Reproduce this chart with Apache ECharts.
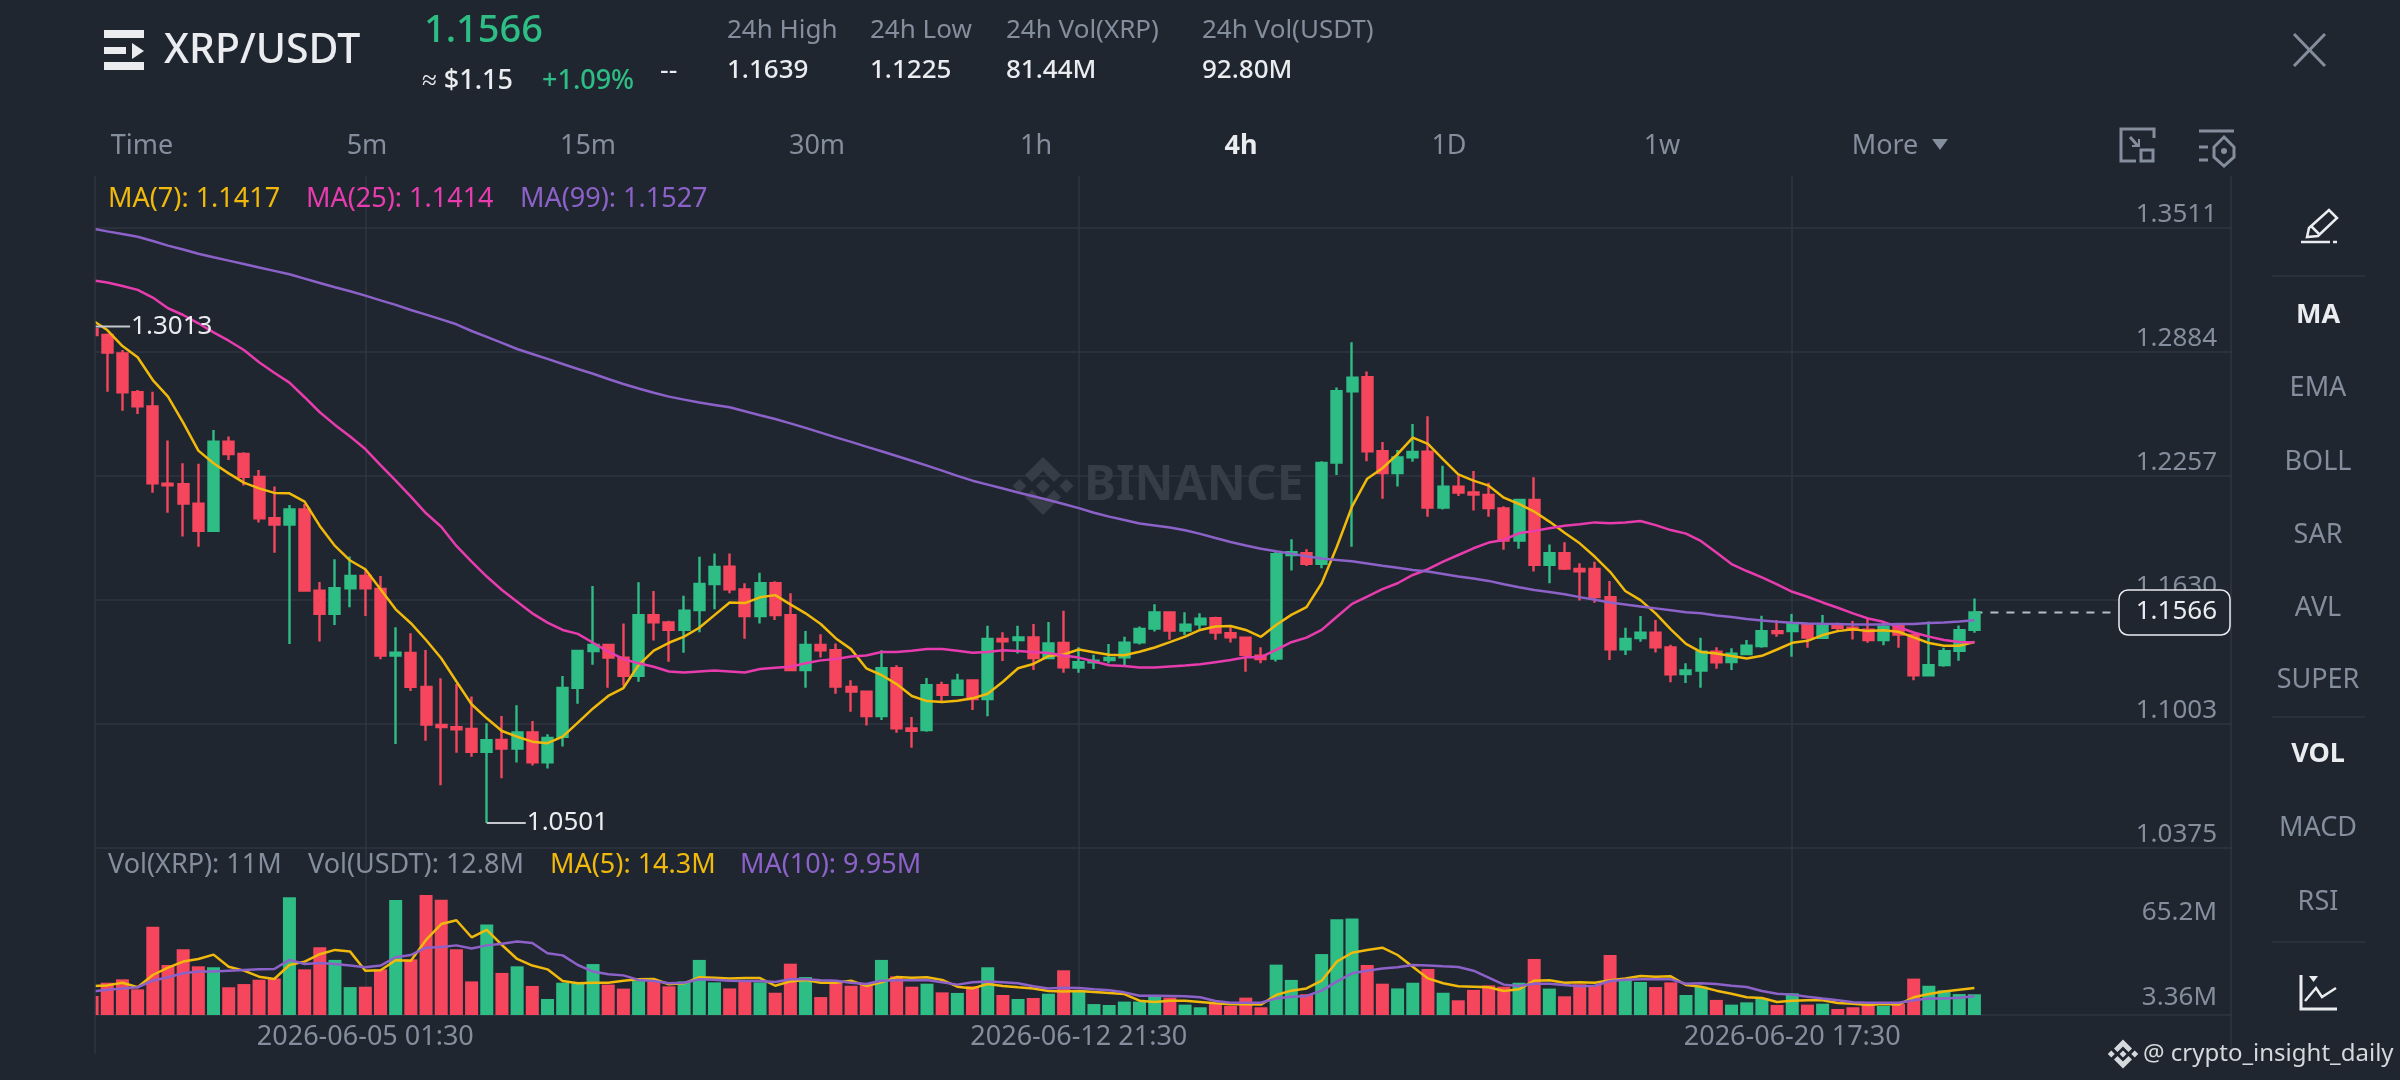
<!DOCTYPE html>
<html>
<head>
<meta charset="utf-8">
<style>html,body{margin:0;padding:0;background:#1f2630;}#c{width:2400px;height:1080px;}</style>
<script src="https://cdn.jsdelivr.net/npm/echarts@6/dist/echarts.min.js"></script>
</head>
<body>
<div id="c"></div>
<script>
const opens=[1.2999,1.2970,1.2877,1.2680,1.2609,1.2218,1.2215,1.2117,1.1980,1.2430,
1.2368,1.2252,1.2043,1.2011,1.2088,1.1677,1.1559,1.1689,1.1751,1.1685,
1.1348,1.1362,1.1190,1.0997,1.0986,1.0977,1.0861,1.0922,1.0878,1.0960,
1.0809,1.0938,1.1185,1.1371,1.1402,1.1338,1.1246,1.1553,1.1516,1.1479,
1.1579,1.1710,1.1798,1.1683,1.1548,1.1714,1.1552,1.1275,1.1402,1.1375,
1.1189,1.1166,1.1043,1.1285,1.0980,1.0972,1.1199,1.1150,1.1223,1.1128,
1.1432,1.1427,1.1440,1.1336,1.1412,1.1288,1.1314,1.1326,1.1340,1.1416,
1.1485,1.1566,1.1475,1.1507,1.1537,1.1461,1.1439,1.1348,1.1333,1.1857,
1.1866,1.1813,1.2324,1.2685,1.2756,1.2382,1.2272,1.2351,1.2380,1.2097,
1.2203,1.2173,1.2161,1.2093,1.1930,1.2136,1.1807,1.1866,1.1786,1.1786,
1.1644,1.1380,1.1437,1.1464,1.1390,1.1255,1.1273,1.1368,1.1315,1.1356,
1.1396,1.1471,1.1472,1.1506,1.1438,1.1498,1.1489,1.1479,1.1427,1.1498,
1.1452,1.1248,1.1300,1.1373,1.1479];
const closes=[1.2970,1.2881,1.2680,1.2609,1.2220,1.2210,1.2117,1.1980,1.2430,1.2368,
1.2252,1.2043,1.2011,1.2088,1.1677,1.1559,1.1689,1.1751,1.1689,1.1348,
1.1363,1.1190,1.1000,1.0987,1.0975,1.0861,1.0920,1.0878,1.0960,1.0809,
1.0932,1.1185,1.1372,1.1402,1.1338,1.1246,1.1553,1.1516,1.1479,1.1575,
1.1710,1.1796,1.1683,1.1548,1.1714,1.1553,1.1275,1.1402,1.1375,1.1191,
1.1166,1.1043,1.1285,1.0980,1.0968,1.1198,1.1150,1.1221,1.1128,1.1432,
1.1420,1.1440,1.1336,1.1410,1.1289,1.1315,1.1323,1.1336,1.1414,1.1483,
1.1566,1.1475,1.1505,1.1535,1.1465,1.1441,1.1352,1.1331,1.1861,1.1871,
1.1813,1.2323,1.2685,1.2754,1.2382,1.2272,1.2351,1.2378,1.2097,1.2203,
1.2173,1.2163,1.2095,1.1930,1.2136,1.1807,1.1866,1.1788,1.1774,1.1644,
1.1380,1.1433,1.1464,1.1390,1.1253,1.1273,1.1368,1.1314,1.1358,1.1398,
1.1471,1.1462,1.1508,1.1440,1.1498,1.1489,1.1479,1.1427,1.1494,1.1455,
1.1248,1.1299,1.1371,1.1477,1.1566];
const lows=[1.2965,1.2683,1.2587,1.2570,1.2172,1.2071,1.1950,1.1899,1.1975,1.2338,
1.2208,1.2021,1.1869,1.1407,1.1675,1.1419,1.1503,1.1593,1.1549,1.1330,
1.0901,1.1169,1.0918,1.0692,1.0857,1.0837,1.0501,1.0728,1.0807,1.0792,
1.0777,1.0888,1.1104,1.1302,1.1186,1.1196,1.1216,1.1424,1.1317,1.1363,
1.1466,1.1582,1.1663,1.1434,1.1510,1.1528,1.1270,1.1186,1.1338,1.1155,
1.1064,1.0994,1.1022,1.0958,1.0882,1.0963,1.1115,1.1149,1.1073,1.1041,
1.1321,1.1359,1.1275,1.1332,1.1262,1.1262,1.1281,1.1309,1.1301,1.1404,
1.1470,1.1428,1.1453,1.1481,1.1428,1.1414,1.1267,1.1309,1.1318,1.1778,
1.1802,1.1790,1.2262,1.1899,1.2331,1.2141,1.2203,1.2329,1.2051,1.2087,
1.2156,1.2082,1.2051,1.1883,1.1889,1.1773,1.1714,1.1781,1.1627,1.1616,
1.1326,1.1351,1.1418,1.1364,1.1213,1.1209,1.1186,1.1282,1.1275,1.1351,
1.1388,1.1444,1.1342,1.1388,1.1433,1.1469,1.1430,1.1413,1.1400,1.1388,
1.1224,1.1248,1.1292,1.1322,1.1464];
const highs=[1.3013,1.2978,1.2894,1.2692,1.2683,1.2436,1.2321,1.2318,1.2489,1.2456,
1.2377,1.2287,1.2203,1.2110,1.2115,1.1721,1.1835,1.1849,1.1781,1.1751,
1.1491,1.1461,1.1377,1.1233,1.1205,1.1141,1.1006,1.1043,1.1097,1.1018,
1.0950,1.1245,1.1374,1.1700,1.1405,1.1511,1.1719,1.1675,1.1525,1.1651,
1.1848,1.1865,1.1865,1.1714,1.1767,1.1724,1.1663,1.1472,1.1456,1.1410,
1.1223,1.1168,1.1375,1.1299,1.1037,1.1235,1.1216,1.1257,1.1224,1.1499,
1.1466,1.1499,1.1508,1.1518,1.1575,1.1390,1.1352,1.1407,1.1444,1.1495,
1.1608,1.1566,1.1567,1.1562,1.1545,1.1492,1.1444,1.1390,1.1873,1.1937,
1.1886,1.2331,1.2704,1.2933,1.2785,1.2429,1.2388,1.2520,1.2559,1.2309,
1.2260,1.2282,1.2223,1.2104,1.2136,1.2250,1.1910,1.1921,1.1815,1.1823,
1.1725,1.1489,1.1548,1.1528,1.1403,1.1310,1.1439,1.1390,1.1385,1.1427,
1.1550,1.1528,1.1558,1.1511,1.1553,1.1514,1.1523,1.1536,1.1519,1.1511,
1.1455,1.1521,1.1388,1.1501,1.1637];
const ma7=[1.3046,1.2995,1.2914,1.2857,1.2742,1.2658,1.2527,1.2385,1.2321,1.2270,
1.2223,1.2194,1.2171,1.2169,1.2127,1.2004,1.1903,1.1829,1.1785,1.1684,
1.1582,1.1512,1.1427,1.1335,1.1217,1.1102,1.1031,1.0967,1.0938,1.0913,
1.0905,1.0938,1.1009,1.1081,1.1144,1.1184,1.1300,1.1373,1.1413,1.1444,
1.1489,1.1553,1.1617,1.1614,1.1643,1.1654,1.1607,1.1562,1.1508,1.1435,
1.1381,1.1284,1.1250,1.1204,1.1144,1.1118,1.1113,1.1120,1.1132,1.1155,
1.1216,1.1284,1.1306,1.1346,1.1354,1.1379,1.1365,1.1352,1.1350,1.1368,
1.1389,1.1416,1.1444,1.1478,1.1495,1.1498,1.1478,1.1443,1.1503,1.1554,
1.1593,1.1714,1.1899,1.2102,1.2243,1.2296,1.2367,1.2451,1.2419,1.2341,
1.2265,1.2233,1.2208,1.2147,1.2115,1.2077,1.2026,1.1970,1.1916,1.1848,
1.1772,1.1675,1.1629,1.1562,1.1481,1.1407,1.1366,1.1359,1.1346,1.1334,
1.1347,1.1379,1.1413,1.1423,1.1452,1.1472,1.1481,1.1472,1.1476,1.1469,
1.1440,1.1412,1.1398,1.1398,1.1417];
const ma25=[1.3247,1.3235,1.3218,1.3198,1.3159,1.3105,1.3071,1.3029,1.2983,1.2941,
1.2894,1.2832,1.2779,1.2729,1.2655,1.2579,1.2515,1.2456,1.2393,1.2312,
1.2233,1.2152,1.2068,1.2000,1.1903,1.1823,1.1748,1.1680,1.1621,1.1562,
1.1515,1.1478,1.1458,1.1413,1.1368,1.1331,1.1309,1.1292,1.1268,1.1263,
1.1268,1.1273,1.1268,1.1263,1.1280,1.1287,1.1292,1.1309,1.1324,1.1331,
1.1344,1.1349,1.1366,1.1366,1.1373,1.1381,1.1381,1.1373,1.1363,1.1366,
1.1375,1.1371,1.1366,1.1361,1.1349,1.1338,1.1318,1.1299,1.1296,1.1288,
1.1288,1.1293,1.1298,1.1304,1.1315,1.1326,1.1340,1.1340,1.1377,1.1416,
1.1439,1.1478,1.1545,1.1610,1.1647,1.1684,1.1714,1.1756,1.1785,1.1824,
1.1857,1.1891,1.1920,1.1933,1.1967,1.1979,1.1992,1.2005,1.2013,1.2022,
1.2018,1.2022,1.2029,1.2008,1.1983,1.1965,1.1927,1.1870,1.1811,1.1776,
1.1744,1.1708,1.1671,1.1646,1.1617,1.1590,1.1562,1.1536,1.1519,1.1492,
1.1465,1.1444,1.1427,1.1417,1.1414];
const ma99=[1.3508,1.3494,1.3481,1.3467,1.3445,1.3422,1.3402,1.3381,1.3363,1.3346,
1.3329,1.3311,1.3294,1.3277,1.3255,1.3233,1.3211,1.3191,1.3169,1.3145,
1.3122,1.3096,1.3073,1.3049,1.3024,1.2990,1.2960,1.2930,1.2899,1.2874,
1.2849,1.2823,1.2798,1.2774,1.2747,1.2722,1.2699,1.2678,1.2658,1.2643,
1.2628,1.2616,1.2604,1.2584,1.2564,1.2545,1.2523,1.2500,1.2476,1.2452,
1.2429,1.2405,1.2382,1.2358,1.2334,1.2309,1.2284,1.2257,1.2233,1.2213,
1.2193,1.2173,1.2154,1.2135,1.2115,1.2094,1.2071,1.2051,1.2034,1.2016,
1.2006,1.1996,1.1982,1.1964,1.1943,1.1923,1.1905,1.1889,1.1876,1.1864,
1.1851,1.1839,1.1832,1.1825,1.1814,1.1803,1.1793,1.1781,1.1773,1.1761,
1.1748,1.1738,1.1726,1.1709,1.1694,1.1680,1.1670,1.1658,1.1644,1.1631,
1.1617,1.1607,1.1597,1.1587,1.1577,1.1567,1.1562,1.1551,1.1543,1.1533,
1.1526,1.1519,1.1514,1.1511,1.1509,1.1508,1.1506,1.1506,1.1506,1.1508,
1.1508,1.1513,1.1516,1.1521,1.1527];
const volumes=[10.1,17.1,18.9,13.6,46.8,26.5,34.8,25.8,25.3,14.7,
16.4,18.7,19.4,62.4,24.2,35.9,29.2,14.8,15.0,24.2,
61.0,29.5,63.6,61.1,34.8,17.8,47.9,22.3,25.8,15.4,
8.5,17.1,16.8,27.0,16.1,14.0,18.0,17.5,15.2,17.8,
29.2,17.3,14.1,18.0,17.3,11.8,27.2,20.1,9.5,17.1,
15.5,16.3,29.2,20.5,15.0,16.6,12.0,11.7,15.2,25.3,
10.6,8.5,9.0,11.3,23.7,12.9,5.8,5.3,7.1,7.1,
9.7,9.2,5.5,4.1,6.5,4.8,9.2,4.1,26.7,18.6,
11.0,32.3,50.7,51.2,26.5,16.6,14.1,17.1,24.4,11.8,
7.8,13.3,15.7,15.0,17.1,29.7,14.0,9.9,16.3,15.9,
31.8,19.4,17.5,14.8,17.3,10.6,15.0,8.0,5.5,6.7,
9.0,5.3,11.5,5.5,6.0,3.2,4.1,5.3,4.8,5.8,
19.3,15.5,13.1,11.1,11.0];
const volMa5=[15.4,15.7,17.1,14.7,21.2,25.1,28.3,29.7,32.0,25.6,
23.5,20.3,19.1,26.5,28.3,32.2,34.5,33.6,23.5,23.7,
29.0,28.8,39.8,48.2,50.2,41.2,45.1,37.1,29.7,26.2,
24.2,18.0,16.8,17.1,17.1,18.2,18.9,19.1,16.3,16.8,
20.0,19.8,19.3,19.6,19.6,15.5,17.8,18.6,17.1,17.1,
18.2,15.4,17.3,20.1,19.8,20.0,18.6,15.0,14.1,16.4,
15.4,14.7,14.1,12.7,12.4,12.7,12.2,11.7,11.1,7.6,
6.9,7.6,7.6,6.9,6.2,5.7,5.7,5.5,10.6,12.9,
14.1,18.2,28.3,33.0,34.5,35.7,31.8,25.6,19.4,16.8,
15.2,15.0,14.7,12.7,13.6,18.2,18.4,17.1,17.3,17.1,
18.4,19.4,20.7,20.3,20.5,15.9,15.0,12.9,11.3,9.4,
9.0,6.9,7.6,7.8,7.8,6.4,6.0,5.3,5.8,5.5,
9.4,11.1,12.4,13.4,14.3];
const volMa10=[12.4,13.4,14.1,14.7,18.2,20.0,22.1,23.0,23.1,23.5,
23.9,24.2,24.4,29.2,27.0,27.6,27.0,26.2,25.3,26.2,
30.6,31.8,35.7,36.0,36.9,35.2,36.9,37.8,38.9,38.2,
32.7,31.6,26.5,23.0,21.6,21.0,18.6,18.0,16.8,17.1,
18.9,18.7,18.2,18.0,18.0,17.5,18.9,18.9,18.4,18.2,
17.1,16.4,18.2,18.4,18.4,18.6,17.3,16.1,17.3,17.8,
17.3,16.8,15.2,14.0,14.5,14.3,13.6,13.1,12.0,10.2,
10.2,10.1,9.9,9.4,7.4,6.5,6.5,6.5,8.8,9.7,
10.1,12.9,17.7,22.1,23.5,24.7,25.3,26.5,26.3,25.8,
25.4,23.5,19.8,16.1,15.4,16.6,16.6,15.9,15.2,15.5,
18.0,18.7,18.9,18.9,18.9,16.6,16.8,16.4,15.5,14.8,
12.7,11.3,10.8,9.7,8.7,7.8,6.7,6.5,6.5,6.5,
7.8,8.7,8.8,9.2,9.95];

const priceTicks=[1.3511,1.2884,1.2257,1.1630,1.1003,1.0375];
const volTickLabels=['65.2M','3.36M'];
const lastPrice=1.1566;
const highMark={index:0,value:1.3013};
const lowMark={index:26,value:1.0501};
const maLegend=[['MA(7): 1.1417',108,'#F0B90B'],['MA(25): 1.1414',306,'#E83CAE'],['MA(99): 1.1527',520,'#8C62C9']];
const volLegend=[['Vol(XRP): 11M',108,'#848E9C'],['Vol(USDT): 12.8M',308,'#848E9C'],['MA(5): 14.3M',550,'#F0B90B'],['MA(10): 9.95M',740,'#8C62C9']];
const stats=[['24h High','1.1639',727],['24h Low','1.1225',870],['24h Vol(XRP)','81.44M',1006],['24h Vol(USDT)','92.80M',1202]];
const intervals=[['Time',142],['5m',367],['15m',588],['30m',817],['1h',1036],['4h',1241],['1D',1449],['1w',1662],['More',1885]];
const indicators=[['MA',315,1],['EMA',388,0],['BOLL',462,0],['SAR',535,0],['AVL',608,0],['SUPER',680,0],['VOL',754,1],['MACD',828,0],['RSI',902,0]];

const BANDS=142, LABEL_EVERY=47, FIRST_LABEL=18;
const categories=[];
for(let i=0;i<BANDS;i++){
  const d=new Date(Date.UTC(2026,5,2,1,30)+i*4*3600*1000);
  const p=n=>String(n).padStart(2,'0');
  categories.push(d.getUTCFullYear()+'-'+p(d.getUTCMonth()+1)+'-'+p(d.getUTCDate())+' '+p(d.getUTCHours())+':'+p(d.getUTCMinutes()));
}
const BG='#1f2630', GRID='#2f3641', GRAY='#848E9C', WHITE='#EAECEF', UP='#2EBD85', DOWN='#F6465D';
const FONT='"Noto Sans"';
const showTick=i=>i>=FIRST_LABEL && (i-FIRST_LABEL)%LABEL_EVERY===0;

const candleData=opens.map((o,i)=>[o,closes[i],lows[i],highs[i]]);
const volData=volumes.map((v,i)=>({value:v,itemStyle:{color:closes[i]>=opens[i]?UP:DOWN}}));
const priceLine=categories.map((c,i)=>(i>=opens.length-1&&i<=133)?lastPrice:null);

function T(text,x,y,size,fill,opt){opt=opt||{};
  return {type:'text',x:x,y:y,z:opt.z||110,silent:true,style:{text:text,fill:fill,
    font:(opt.weight||400)+' '+size+'px '+FONT,align:opt.align||'left',verticalAlign:'middle',
    textAlign:opt.align||'left',textVerticalAlign:'middle',
    shadowBlur:opt.shadow?3:0,shadowColor:'rgba(0,0,0,.6)'}};
}
function R(x,y,w,h,fill,z,r){return {type:'rect',z:z||105,silent:true,shape:{x:x,y:y,width:w,height:h,r:r||0},style:{fill:fill}};}
function L(x1,y1,x2,y2,col,w,z){return {type:'line',z:z||106,silent:true,shape:{x1:x1,y1:y1,x2:x2,y2:y2},style:{stroke:col,lineWidth:w||2}};}
function P(pts,fill,z){return {type:'polygon',z:z||1,silent:true,shape:{points:pts},style:{fill:fill}};}
function PL(pts,col,w,z){return {type:'polyline',z:z||107,silent:true,shape:{points:pts},style:{stroke:col,lineWidth:w,fill:null}};}
function logo(cx,cy,s,col,z){
  const d=(x,y,h)=>P([[cx+x*s,cy+(y-h)*s],[cx+(x+h)*s,cy+y*s],[cx+x*s,cy+(y+h)*s],[cx+(x-h)*s,cy+y*s]],col,z);
  const chev=(sgn)=>P([[cx,cy+sgn*29*s],[cx+18*s,cy+sgn*11*s],[cx+11*s,cy+sgn*4*s],[cx,cy+sgn*15*s],[cx-11*s,cy+sgn*4*s],[cx-18*s,cy+sgn*11*s]],col,z);
  return [d(0,0,7),d(-23.5,0,7),d(23.5,0,7),chev(-1),chev(1)];
}

const graphic=[
  // watermark behind the marks
  T('BINANCE',1084,486,48,'#363d47',{weight:700,z:1}),
  ...logo(1043,486,1,'#363d47',1),
  // masks so the plot starts at the panel edges
  R(0,176,95,880,BG),
  R(2232,176,168,880,BG),
  L(95,176,95,1054,GRID,1.5),
  L(2231,176,2231,1054,GRID,1.5),
  // header
  R(104,30,40,8,WHITE),R(104,47,22,7,WHITE),P([[132,43],[144,51],[132,59]],WHITE,106),R(104,62,40,8,WHITE),
  T('XRP/USDT',164,51,41,WHITE,{weight:500}),
  T('1.1566',424,31,38,UP,{weight:500}),
  T('≈ $1.15',422,81,27,WHITE,{weight:500}),
  T('+1.09%',542,81,27,UP,{weight:500}),
  T('--',660,71,27,WHITE),
  L(2294,34,2325,66,GRAY,3),L(2325,34,2294,66,GRAY,3)
];
stats.forEach(s=>{graphic.push(T(s[0],s[2],31,26,GRAY),T(s[1],s[2],71,26,WHITE,{weight:500}));});
intervals.forEach(s=>{graphic.push(T(s[0],s[1],146,27,s[0]==='4h'?WHITE:GRAY,{align:'center',weight:s[0]==='4h'?700:400}));});
graphic.push(P([[1932,139],[1948,139],[1940,150]],GRAY,110));
// toolbar icons
graphic.push(
  PL([[2154,138],[2154,129],[2121,129],[2121,161],[2136,161]],GRAY,3),
  R(2141,149,12,12,'rgba(0,0,0,0)'),
  {type:'rect',z:107,silent:true,shape:{x:2141,y:150,width:12,height:11},style:{fill:null,stroke:GRAY,lineWidth:3}},
  PL([[2130,137],[2138,146]],GRAY,3),PL([[2132,146],[2139,146],[2139,139]],GRAY,2),
  L(2199,131,2234,131,GRAY,3),L(2199,147,2208,147,GRAY,3),L(2199,160,2208,160,GRAY,3),
  {type:'polygon',z:107,silent:true,shape:{points:[[2224,137],[2234,147],[2234,157],[2224,166],[2214,157],[2214,147]]},style:{fill:null,stroke:GRAY,lineWidth:3}},
  {type:'circle',z:107,silent:true,shape:{cx:2224,cy:151,r:3},style:{fill:GRAY}}
);
// legends
maLegend.forEach(s=>graphic.push(T(s[0],s[1],199,27,s[2])));
volLegend.forEach(s=>graphic.push(T(s[0],s[1],865,27,s[2])));
// price badge
graphic.push({type:'rect',z:108,silent:true,shape:{x:2119,y:590,width:111,height:45,r:9},style:{fill:BG,stroke:WHITE,lineWidth:1.5}},
  T(lastPrice.toFixed(4),2217,612,26,WHITE,{align:'right'}));
// volume axis labels
graphic.push(T(volTickLabels[0],2217,913,26,GRAY,{align:'right'}),T(volTickLabels[1],2217,998,26,GRAY,{align:'right'}));
// right panel
graphic.push(L(2272,276,2365,276,GRID,1.5),L(2272,717,2365,717,GRID,1.5),L(2272,942,2365,942,GRID,1.5));
indicators.forEach(s=>graphic.push(T(s[0],2318,s[1],27,s[2]?WHITE:GRAY,{align:'center',weight:s[2]?700:400})));
graphic.push(
  L(2301,242,2330,242,WHITE,2.5),L(2333,242,2337,242,WHITE,2.5),
  {type:'polygon',z:107,silent:true,shape:{points:[[2307,237],[2309,228],[2329,210],[2337,218],[2318,236]]},style:{fill:null,stroke:WHITE,lineWidth:2.5}},
  L(2311,226,2320,235,WHITE,2.5),
  PL([[2301,975],[2301,1009],[2337,1009]],WHITE,3),
  PL([[2305,1001],[2316,988],[2322,997],[2336,988]],WHITE,2.5),
  P([[2309,976],[2318,976],[2313.5,982]],WHITE,107)
);
// credit
graphic.push(...logo(2123,1054,0.5,'#d5d8dc',110));
graphic.push(T('@ crypto_insight_daily',2143,1054,24,'#d5d8dc',{shadow:true}));

const axisBase={type:'category',data:categories,axisTick:{show:false,interval:showTick,alignWithLabel:true},
  splitLine:{show:true,interval:showTick,alignWithLabel:true,lineStyle:{color:GRID,width:1.5}}};
const option={
  animation:false,
  backgroundColor:BG,
  grid:[{left:84.5,top:176,width:15.18*BANDS,height:672},
        {left:84.5,top:848,width:15.18*BANDS,height:167}],
  xAxis:[
    Object.assign({},axisBase,{gridIndex:0,axisLine:{show:false},axisLabel:{show:false,interval:showTick}}),
    Object.assign({},axisBase,{gridIndex:1,axisLine:{show:true,lineStyle:{color:GRID,width:1.5}},
      axisLabel:{show:true,interval:showTick,color:GRAY,fontFamily:'Noto Sans',fontSize:27,margin:9}})
  ],
  yAxis:[
    {type:'value',gridIndex:0,position:'right',min:1.0375,max:1.0375+672*0.3136/620,
     axisLine:{show:false},
     axisTick:{show:false,customValues:priceTicks},
     axisLabel:{show:true,inside:true,margin:23,customValues:priceTicks,color:GRAY,fontFamily:'Noto Sans',fontSize:26,
       verticalAlign:'bottom',formatter:v=>Number(v).toFixed(4),showMinLabel:true,showMaxLabel:true},
     splitLine:{show:true,lineStyle:{color:GRID,width:1.5}}},
    {type:'value',gridIndex:1,position:'right',min:0,max:167*0.53,axisLine:{show:false},axisTick:{show:false},
     axisLabel:{show:false},splitLine:{show:false}}
  ],
  series:[
    {type:'line',name:'last',xAxisIndex:0,yAxisIndex:0,data:priceLine,z:1,symbol:'none',connectNulls:false,
     lineStyle:{color:'#b7bdc6',width:2,type:[8,8]}},
    {type:'candlestick',name:'XRP/USDT',xAxisIndex:0,yAxisIndex:0,data:candleData,barWidth:10.5,z:2,
     itemStyle:{color:UP,color0:DOWN,borderColor:UP,borderColor0:DOWN,borderWidth:2.4},
     markPoint:{animation:false,silent:true,data:[
       {coord:[highMark.index,highMark.value],value:highMark.value,symbol:'rect',symbolSize:[38,2],symbolOffset:[19,0]},
       {coord:[lowMark.index,lowMark.value],value:lowMark.value,symbol:'rect',symbolSize:[39,2],symbolOffset:[19.5,0]}],
       itemStyle:{color:'#c4c8ce'},
       label:{show:true,position:'right',distance:1,color:WHITE,fontFamily:'Noto Sans',fontSize:26,formatter:p=>Number(p.value).toFixed(4)}}},
    {type:'line',name:'MA7',xAxisIndex:0,yAxisIndex:0,data:ma7,symbol:'none',z:3,lineStyle:{color:'#F0B90B',width:2.5}},
    {type:'line',name:'MA25',xAxisIndex:0,yAxisIndex:0,data:ma25,symbol:'none',z:3,lineStyle:{color:'#E83CAE',width:2.5}},
    {type:'line',name:'MA99',xAxisIndex:0,yAxisIndex:0,data:ma99,symbol:'none',z:3,lineStyle:{color:'#8C62C9',width:2.5}},
    {type:'bar',name:'Vol',xAxisIndex:1,yAxisIndex:1,data:volData,barWidth:13,z:2},
    {type:'line',name:'VolMA5',xAxisIndex:1,yAxisIndex:1,data:volMa5,symbol:'none',z:3,lineStyle:{color:'#F0B90B',width:2.5}},
    {type:'line',name:'VolMA10',xAxisIndex:1,yAxisIndex:1,data:volMa10,symbol:'none',z:3,lineStyle:{color:'#8C62C9',width:2.5}}
  ],
  graphic:graphic
};
const chart=echarts.init(document.getElementById('c'),null,{renderer:'canvas',width:2400,height:1080});
chart.setOption(option);
</script>
</body>
</html>
